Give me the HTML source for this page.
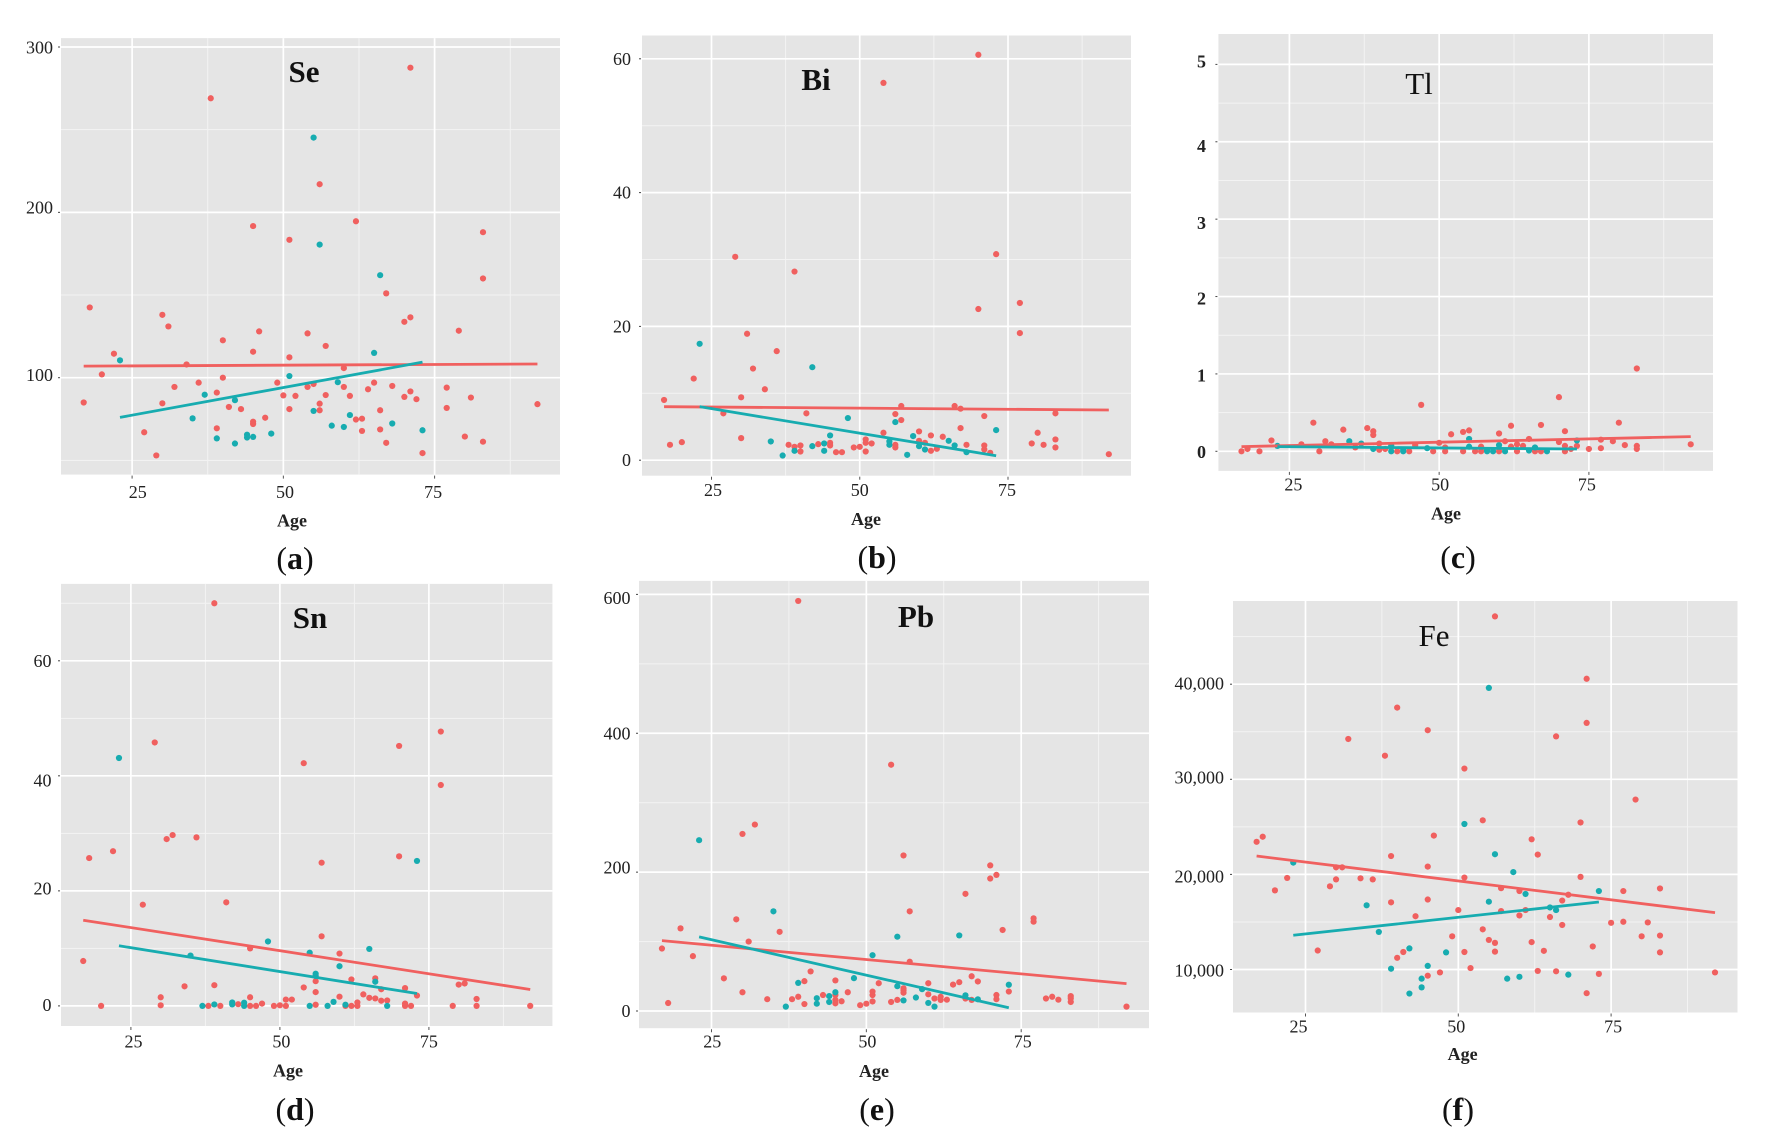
<!DOCTYPE html>
<html lang="en">
<head>
<meta charset="utf-8">
<title>Element concentration versus age</title>
<style>
html,body{margin:0;padding:0;background:#fff;}
#figure{display:block;width:1782px;height:1142px;font-family:"Liberation Serif",serif;filter:blur(0.35px);}
.tick-label{font-size:18px;fill:#222;dominant-baseline:central;}
.age{font-size:18px;font-weight:bold;fill:#222;text-anchor:middle;dominant-baseline:central;}
.title{font-size:31px;font-weight:bold;fill:#111;text-anchor:middle;dominant-baseline:central;}
.title-regular{font-weight:normal;}
.caption{font-size:32px;fill:#111;text-anchor:middle;dominant-baseline:central;}
.caption tspan{font-weight:bold;}
</style>
</head>
<body>
<svg id="figure" xmlns="http://www.w3.org/2000/svg" width="1782" height="1142" viewBox="0 0 1782 1142">
  <rect x="0" y="0" width="1782" height="1142" fill="#fff"/>
  <g id="plots"></g>
  <text class="title" x="304" y="71.4">Se</text>
  <text class="title" x="816" y="79.5">Bi</text>
  <text class="title title-regular" x="1419" y="83.6">Tl</text>
  <text class="title" x="310" y="617.4">Sn</text>
  <text class="title" x="916" y="616.3">Pb</text>
  <text class="title title-regular" x="1434" y="635.7">Fe</text>
  <text class="age" x="292" y="520.5">Age</text>
  <text class="age" x="866" y="519">Age</text>
  <text class="age" x="1446" y="513.4">Age</text>
  <text class="age" x="288" y="1070.5">Age</text>
  <text class="age" x="874" y="1070.9">Age</text>
  <text class="age" x="1462.6" y="1054">Age</text>
  <text class="caption" x="295" y="558">(<tspan>a</tspan>)</text>
  <text class="caption" x="877" y="557">(<tspan>b</tspan>)</text>
  <text class="caption" x="1458" y="557">(<tspan>c</tspan>)</text>
  <text class="caption" x="295" y="1109">(<tspan>d</tspan>)</text>
  <text class="caption" x="877" y="1109">(<tspan>e</tspan>)</text>
  <text class="caption" x="1458" y="1109">(<tspan>f</tspan>)</text>
</svg>
<script>
/* shared */
const ageTicks = [25, 50, 75];
const ageMinorTicks = [37.5, 62.5, 87.5];

/* Se */
const seTicks = [100, 200, 300];
const seMinorTicks = [50, 150, 250];
const seTickLabels = ["100", "200", "300"];
const seRedAge = [17,18,20,22,27,29,30,30,31,32,34,36,38,39,39,40,40,41,43,45,45,45,45,46,47,49,50,51,51,51,52,54,54,55,56,56,56,57,57,60,60,61,62,62,63,63,64,65,66,66,67,67,68,70,70,71,71,71,72,73,77,77,79,80,81,83,83,83,92];
const seRedValue = [85,142.5,102,114.5,67,53,138,84.5,131,94.4,108,97,269,91,69.4,122.6,100,82.3,81,191.7,115.7,73.4,72,128,75.8,97,89.3,183.4,112.3,81,89,126.8,94.4,96.2,217,84.3,80.3,119.2,89.5,105.8,94.4,89,194.6,74.7,75.2,67.8,93,97,80.3,68.7,151,60.6,95,133.8,88.4,287.5,136.5,91.7,87,54.4,94,81.7,128.4,64.4,88,188,160,61.3,84];
const seTealAge = [23,35,37,39,42,42,44,44,45,48,51,55,55,56,58,59,60,61,65,66,68,73];
const seTealValue = [110.5,75.4,89.7,63.3,86.4,60.2,65.5,63.8,64.2,66.2,101,245.2,79.9,180.5,71,97.3,70.2,77.4,115,162,72.3,68.2];
const seRedFitAge = [17, 92];
const seRedFitValue = [107, 108.3];
const seTealFitAge = [23, 73];
const seTealFitValue = [76, 109.4];

/* Bi */
const biTicks = [0, 20, 40, 60];
const biMinorTicks = [10, 30, 50];
const biTickLabels = ["0", "20", "40", "60"];
const biRedAge = [17,18,20,22,27,29,30,30,31,32,34,36,38,39,39,40,40,41,43,45,45,46,47,49,50,51,51,51,52,54,54,56,56,56,57,57,60,60,61,62,62,63,64,66,67,67,68,70,70,71,71,71,72,73,77,77,79,80,81,83,83,83,92];
const biRedValue = [9,2.3,2.7,12.2,7,30.4,9.4,3.3,18.9,13.7,10.6,16.3,2.3,28.2,2,2.2,1.3,7,2.4,2.6,2.2,1.2,1.2,1.9,2,3.1,2.6,1.3,2.5,56.4,4.1,6.9,2.3,1.9,8.1,6,4.3,2.9,2.6,3.7,1.4,1.7,3.5,8.1,7.7,4.8,2.3,60.6,22.6,6.6,2.2,1.6,1.1,30.8,23.5,19,2.5,4.1,2.3,7,3.1,1.9,0.9];
const biTealAge = [23,35,37,39,42,42,44,44,45,48,55,55,56,58,59,60,61,65,66,68,73];
const biTealValue = [17.4,2.8,0.7,1.4,13.9,2.1,2.5,1.4,3.7,6.3,2.8,2.3,5.7,0.8,3.6,2.1,1.6,2.9,2.2,1.2,4.5];
const biRedFitAge = [17, 92];
const biRedFitValue = [8, 7.5];
const biTealFitAge = [23, 73];
const biTealFitValue = [8, 0.66];

/* Tl */
const tlTicks = [0, 1, 2, 3, 4, 5];
const tlMinorTicks = [0.5, 1.5, 2.5, 3.5, 4.5];
const tlTickLabels = ["0", "1", "2", "3", "4", "5"];
const tlRedAge = [17,18,20,22,27,29,30,31,32,34,36,38,39,39,40,40,41,43,45,46,47,49,50,51,51,52,54,54,55,56,57,57,60,60,61,62,62,63,63,64,65,66,67,67,70,70,71,71,71,72,73,75,77,77,79,80,81,83,83,83,92];
const tlRedValue = [0,0.03,0,0.14,0.09,0.37,0,0.13,0.09,0.28,0.05,0.3,0.26,0.21,0.1,0.02,0.03,0,0,0.08,0.6,0,0.11,0.05,0,0.22,0.25,0,0.27,0,0.06,0,0.23,0,0.13,0.33,0.06,0.09,0,0.07,0.16,0,0.34,0,0.7,0.12,0.26,0.07,0,0.03,0.07,0.03,0.15,0.04,0.13,0.37,0.08,1.07,0.07,0.03,0.09];
const tlTealAge = [23,35,37,39,42,42,44,44,48,55,55,58,58,59,60,61,65,66,68,73];
const tlTealValue = [0.07,0.13,0.1,0.03,0.07,0,0.02,0,0.04,0.16,0.06,0.01,0,0,0.08,0,0.01,0.05,0,0.14];
const tlRedFitAge = [17, 92];
const tlRedFitValue = [0.06, 0.19];
const tlTealFitAge = [23, 73];
const tlTealFitValue = [0.06, 0.03];

/* Sn */
const snTicks = [0, 20, 40, 60];
const snMinorTicks = [10, 30, 50, 70];
const snTickLabels = ["0", "20", "40", "60"];
const snRedAge = [17,18,20,22,27,29,30,30,31,32,34,36,38,39,39,40,41,43,45,45,45,46,47,49,50,51,51,52,54,54,56,56,56,57,57,60,60,61,62,62,63,63,64,65,66,66,67,67,68,70,70,71,71,71,72,73,77,77,79,80,81,83,83,92];
const snRedValue = [7.8,25.7,0,26.9,17.6,45.8,1.5,0.1,29,29.7,3.4,29.3,0,70,3.6,0,18,0.3,10,1.5,0,0,0.4,0,0.1,1.1,0,1.1,42.2,3.2,4.3,2.4,0.2,24.9,12.1,9.1,1.6,0,4.6,0,0.6,0,2,1.4,4.8,1.3,2.9,0.9,0.95,45.2,26,3.1,0.4,0,0,1.8,47.7,38.4,0,3.7,3.9,1.2,0,0];
const snTealAge = [23,35,37,39,42,42,44,44,48,55,55,56,56,58,59,60,61,65,66,68,73];
const snTealValue = [43.1,8.75,0,0.25,0.6,0.25,0.55,0,11.2,9.25,0,5.6,5.2,0,0.7,6.9,0.2,9.9,4.2,0,25.2];
const snRedFitAge = [17, 92];
const snRedFitValue = [14.9, 2.85];
const snTealFitAge = [23, 73];
const snTealFitValue = [10.45, 2.15];

/* Pb */
const pbTicks = [0, 200, 400, 600];
const pbMinorTicks = [100, 300, 500];
const pbTickLabels = ["0", "200", "400", "600"];
const pbRedAge = [17,18,20,22,27,29,30,30,31,32,34,36,38,39,39,40,40,41,43,45,45,45,45,46,47,49,50,51,51,51,52,54,54,55,56,56,56,56,57,57,60,60,61,62,62,63,64,65,66,66,67,67,68,70,70,71,71,71,72,73,77,77,79,80,81,83,83,83,92];
const pbRedValue = [90,11.5,119,79,47,132,255,27,100,268.5,17,114,17,590.6,20.5,43,10,57,23,44,23,16,11,14,27,8.4,10.5,28,23,13.7,40,354.7,13,16,224,32.6,30,26.3,143.5,71,40,24,18,20.5,16,16.3,38,41.5,168.7,18,50,16,42.5,209.7,190.8,196,23,17,116.7,28,133.5,128.7,18,20.5,16.3,21.5,18,13,6.3];
const pbTealAge = [23,35,37,39,42,42,44,44,45,48,51,55,55,56,58,59,60,61,65,66,68,73];
const pbTealValue = [246,143.5,6.3,40.5,18.4,10.5,21.5,13,27,47.3,80.4,107,35.7,15.2,19.4,31.5,11.6,6.3,108.8,22.6,16.8,37.8];
const pbRedFitAge = [17, 92];
const pbRedFitValue = [101.4, 39.4];
const pbTealFitAge = [23, 73];
const pbTealFitValue = [106.7, 4.7];

/* Fe */
const feTicks = [10000, 20000, 30000, 40000];
const feMinorTicks = [15000, 25000, 35000, 45000];
const feTickLabels = ["10,000", "20,000", "30,000", "40,000"];
const feRedAge = [17,18,20,22,27,29,30,30,31,32,34,36,38,39,39,40,40,41,43,45,45,45,45,46,47,49,50,51,51,51,52,54,54,55,56,56,56,57,57,60,60,61,62,62,63,63,64,65,66,66,67,67,68,70,70,71,71,71,72,73,75,77,77,79,80,81,83,83,83,92];
const feRedValue = [23425,23960,18320,19630,11995,18745,19475,20740,20740,34240,19590,19475,32480,21930,17060,37540,11230,11840,15600,35160,20820,17360,9350,24080,9690,13490,16250,31130,19670,11840,10150,25690,14220,13110,12800,11880,47130,18550,16140,18250,15680,16250,23690,12880,22080,9850,11960,15520,34510,9810,17250,14680,17860,25460,19740,40570,35930,7510,12420,9540,14910,18250,15020,27870,13490,14950,18520,13570,11800,9690];
const feTealAge = [23,35,37,39,42,42,44,44,45,48,51,55,55,56,58,59,60,61,65,66,68,73];
const feTealValue = [21240,16750,13950,10080,12220,7470,9040,8120,10380,11800,25300,39610,17130,22120,9040,20240,9230,17940,16520,16250,9460,18250];
const feRedFitAge = [17, 92];
const feRedFitValue = [21930, 15980];
const feTealFitAge = [23, 73];
const feTealFitValue = [13600, 17100];

/* layout: where each plot sits on the page */
const RED = "#f0605f";
const TEAL = "#17acb0";
const plots = [
  {key:"se", left:61, right:560, top:38.1, bottom:474.6, x25:132.1, x75:434.6, yLo:377.7, yHi:47, labelRight:53, labelY:492, labelDx:[5.7,1.7,-1.5], labelDy:[-2.6,-4.8,0.4],
   ticks:seTicks, minor:seMinorTicks, labels:seTickLabels, redAge:seRedAge, redValue:seRedValue, tealAge:seTealAge, tealValue:seTealValue, redFitAge:seRedFitAge, redFitValue:seRedFitValue, tealFitAge:seTealFitAge, tealFitValue:seTealFitValue, boldTicks:false},
  {key:"bi", left:642, right:1131, top:35.5, bottom:475.7, x25:711.5, x75:1008, yLo:460.2, yHi:58.8, labelRight:631, labelY:490, labelDx:[1.5,0,-1], labelDy:[0,0,0,0.4],
   ticks:biTicks, minor:biMinorTicks, labels:biTickLabels, redAge:biRedAge, redValue:biRedValue, tealAge:biTealAge, tealValue:biTealValue, redFitAge:biRedFitAge, redFitValue:biRedFitValue, tealFitAge:biTealFitAge, tealFitValue:biTealFitValue, boldTicks:false},
  {key:"tl", left:1218.4, right:1713, top:34, bottom:470.9, x25:1289.4, x75:1588.9, yLo:451.3, yHi:64.4, labelRight:1206, labelY:484.6, labelDx:[4,1,-2], labelDy:[0.7,1.5,2.2,4,4.4,-3],
   ticks:tlTicks, minor:tlMinorTicks, labels:tlTickLabels, redAge:tlRedAge, redValue:tlRedValue, tealAge:tlTealAge, tealValue:tlTealValue, redFitAge:tlRedFitAge, redFitValue:tlRedFitValue, tealFitAge:tlTealFitAge, tealFitValue:tlTealFitValue, boldTicks:true},
  {key:"sn", left:61, right:552.4, top:583.9, bottom:1026, x25:130.9, x75:428.9, yLo:1005.9, yHi:660.8, labelRight:51.5, labelY:1041.3, labelDx:[2.6,1.5,0], labelDy:[-1,-2.6,4.8,0.4],
   ticks:snTicks, minor:snMinorTicks, labels:snTickLabels, redAge:snRedAge, redValue:snRedValue, tealAge:snTealAge, tealValue:snTealValue, redFitAge:snRedFitAge, redFitValue:snRedFitValue, tealFitAge:snTealFitAge, tealFitValue:snTealFitValue, boldTicks:false},
  {key:"pb", left:639, right:1149, top:580.9, bottom:1028.2, x25:711.5, x75:1021.2, yLo:1011, yHi:594.4, labelRight:630.5, labelY:1041.3, labelDx:[0.7,1,1.5], labelDy:[0,-4.4,0,3.8],
   ticks:pbTicks, minor:pbMinorTicks, labels:pbTickLabels, redAge:pbRedAge, redValue:pbRedValue, tealAge:pbTealAge, tealValue:pbTealValue, redFitAge:pbRedFitAge, redFitValue:pbRedFitValue, tealFitAge:pbTealFitAge, tealFitValue:pbTealFitValue, boldTicks:false},
  {key:"fe", left:1233, right:1737.5, top:601, bottom:1012.5, x25:1305.5, x75:1611.1, yLo:969.5, yHi:684.2, labelRight:1224, labelY:1026.7, labelDx:[-7,-2,2], labelDy:[1,2,-2,-0.7],
   ticks:feTicks, minor:feMinorTicks, labels:feTickLabels, redAge:feRedAge, redValue:feRedValue, tealAge:feTealAge, tealValue:feTealValue, redFitAge:feRedFitAge, redFitValue:feRedFitValue, tealFitAge:feTealFitAge, tealFitValue:feTealFitValue, boldTicks:false}
];

const SVGNS = "http://www.w3.org/2000/svg";
const root = document.getElementById("plots");

function svgEl(tag, attrs, parent) {
  const node = document.createElementNS(SVGNS, tag);
  for (const k in attrs) node.setAttribute(k, attrs[k]);
  parent.appendChild(node);
  return node;
}

function drawPlot(p) {
  const xScale = age => p.x25 + (age - ageTicks[0]) * (p.x75 - p.x25) / (ageTicks[2] - ageTicks[0]);
  const lo = p.ticks[0];
  const hi = p.ticks[p.ticks.length - 1];
  const yScale = v => p.yLo + (v - lo) * (p.yHi - p.yLo) / (hi - lo);

  const group = svgEl("g", {}, root);
  
  

  const bg = svgEl("rect", {x:p.left, y:p.top, width:p.right - p.left, height:p.bottom - p.top, fill:"#e5e5e5"}, group);
  
  

  p.minor.forEach(v => {
    const el = svgEl("line", {x1:p.left, x2:p.right, y1:yScale(v), y2:yScale(v), stroke:"#f3f3f3", "stroke-width":1}, group);
    
    
  });
  ageMinorTicks.forEach(a => {
    const el = svgEl("line", {x1:xScale(a), x2:xScale(a), y1:p.top, y2:p.bottom, stroke:"#f3f3f3", "stroke-width":1}, group);
    
    
  });
  p.ticks.forEach((v, i) => {
    const y = yScale(v);
    const grid = svgEl("line", {x1:p.left, x2:p.right, y1:y, y2:y, stroke:"#fff", "stroke-width":1.7}, group);
    
    
    const tick = svgEl("line", {x1:p.left - 3, x2:p.left - 1, y1:y, y2:y, stroke:"#444", "stroke-width":1}, group);
    
    
    const label = svgEl("text", {x:p.labelRight, y:y + p.labelDy[i], "text-anchor":"end", class:"tick-label", "font-weight":p.boldTicks ? "bold" : "normal"}, group);
    label.textContent = p.labels[i];
    
    
  });
  ageTicks.forEach((a, i) => {
    const x = xScale(a);
    const grid = svgEl("line", {x1:x, x2:x, y1:p.top, y2:p.bottom, stroke:"#fff", "stroke-width":1.7}, group);
    
    
    const tick = svgEl("line", {x1:x, x2:x, y1:p.bottom + 1, y2:p.bottom + 4, stroke:"#555", "stroke-width":1}, group);
    
    
    const label = svgEl("text", {x:x + p.labelDx[i], y:p.labelY, "text-anchor":"middle", class:"tick-label"}, group);
    label.textContent = String(a);
    
    
  });

  p.redAge.forEach((a, i) => {
    const el = svgEl("circle", {cx:xScale(a), cy:yScale(p.redValue[i]), r:3.1, fill:RED}, group);
    
    
  });
  p.tealAge.forEach((a, i) => {
    const el = svgEl("circle", {cx:xScale(a), cy:yScale(p.tealValue[i]), r:3.1, fill:TEAL}, group);
    
    
  });

  const redLine = svgEl("polyline", {points:p.redFitAge.map((a, i) => xScale(a) + "," + yScale(p.redFitValue[i])).join(" "), fill:"none", stroke:RED, "stroke-width":2.8}, group);
  
  
  const tealLine = svgEl("polyline", {points:p.tealFitAge.map((a, i) => xScale(a) + "," + yScale(p.tealFitValue[i])).join(" "), fill:"none", stroke:TEAL, "stroke-width":2.8}, group);
  
  
}

plots.forEach(drawPlot);
</script>
</body>
</html>
